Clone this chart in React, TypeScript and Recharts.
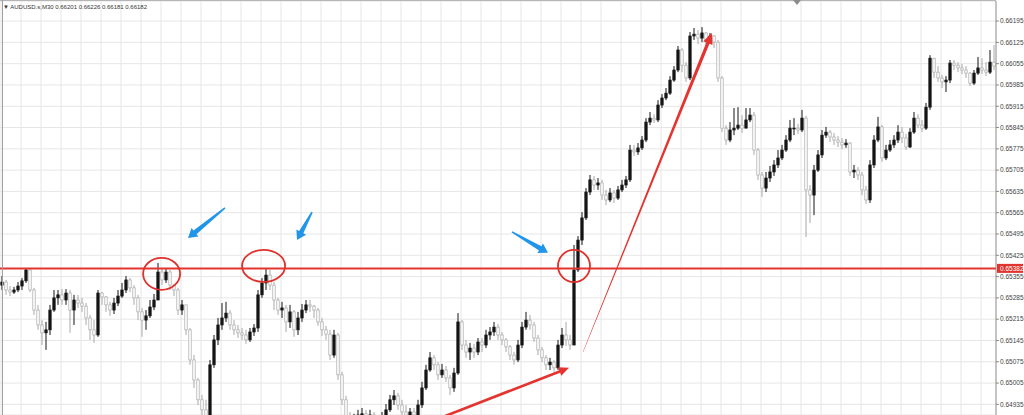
import React from "react";
import {
  ComposedChart,
  Bar,
  XAxis,
  YAxis,
  CartesianGrid,
  ReferenceLine,
  ReferenceDot,
} from "recharts";

// AUDUSD M30, prices stored in points (1 point = 0.00001)
const symbolName = "AUDUSD.s,M30";
const quote = ["0.66201", "0.66226", "0.66181", "0.66182"];
const levelPrice = 65382;
const firstOpen = 65327;

const closes = [
  65337, 65311, 65304, 65311, 65324, 65341, 65377, 65311, 65245, 65196,
  65170, 65180, 65245, 65285, 65295, 65278, 65301, 65245, 65278, 65268,
  65258, 65219, 65180, 65163, 65301, 65288, 65262, 65245, 65268, 65291,
  65311, 65344, 65318, 65285, 65239, 65212, 65226, 65255, 65278, 65370,
  65344, 65370, 65327, 65311, 65245, 65262, 65180, 65081, 65015, 64950,
  64917, 64884, 65065, 65147, 65196, 65219, 65235, 65196, 65180, 65170,
  65163, 65147, 65173, 65186, 65295, 65334, 65360, 65327, 65278, 65245,
  65252, 65206, 65239, 65180, 65219, 65245, 65262, 65258, 65245, 65206,
  65180, 65166, 65097, 65163, 65032, 64950, 64890, 64867, 64884, 64900,
  64904, 64890, 64900, 64884, 64871, 64890, 64917, 64950, 64963, 64933,
  64910, 64900, 64910, 64900, 64933, 64989, 65048, 65088, 65065, 65032,
  65048, 65022, 64989, 65038, 65206, 65130, 65107, 65120, 65107, 65140,
  65130, 65163, 65173, 65189, 65163, 65147, 65124, 65097, 65081, 65130,
  65189, 65212, 65196, 65153, 65114, 65088, 65065, 65074, 65055, 65130,
  65163, 65147, 65130, 65377, 65475, 65548, 65633, 65673, 65656, 65663,
  65623, 65607, 65630, 65613, 65640, 65656, 65673, 65771, 65765, 65778,
  65804, 65863, 65876, 65870, 65919, 65942, 65958, 66001, 66034, 66100,
  66050, 66008, 66146, 66152, 66139, 66156, 66133, 66146, 66126, 66008,
  65843, 65804, 65837, 65843, 65853, 65843, 65870, 65886, 65771, 65689,
  65646, 65679, 65699, 65722, 65745, 65771, 65804, 65843, 65843, 65837,
  65876, 65640, 65623, 65705, 65755, 65820, 65830, 65814, 65804, 65797,
  65788, 65794, 65699, 65705, 65689, 65640, 65607, 65722, 65804, 65847,
  65745, 65771, 65788, 65804, 65830, 65811, 65781, 65830, 65876, 65853,
  65843, 65912, 66073, 66027, 66008, 65995, 66001, 66057, 66050, 66041,
  66034, 66024, 65991, 66024, 66041, 66034, 66027, 66060, 66047,
];

const highs = [
  65357, 65344, 65324, 65321, 65337, 65350, 65383, 65383, 65318, 65262,
  65212, 65206, 65262, 65311, 65311, 65314, 65314, 65311, 65295, 65295,
  65285, 65268, 65229, 65212, 65311, 65304, 65291, 65272, 65285, 65311,
  65334, 65357, 65350, 65327, 65295, 65252, 65245, 65278, 65298, 65400,
  65380, 65383, 65377, 65331, 65318, 65278, 65262, 65186, 65097, 65022,
  64966, 64950, 65081, 65163, 65219, 65268, 65272, 65245, 65212, 65196,
  65186, 65180, 65186, 65199, 65311, 65350, 65383, 65377, 65337, 65285,
  65272, 65262, 65262, 65245, 65239, 65265, 65278, 65278, 65262, 65252,
  65219, 65193, 65180, 65180, 65170, 65042, 64963, 64910, 64904, 64917,
  64923, 64917, 64917, 64910, 64900, 64910, 64936, 64966, 64982, 64973,
  64950, 64933, 64923, 64923, 64950, 65009, 65065, 65107, 65097, 65074,
  65068, 65061, 65032, 65055, 65235, 65212, 65147, 65137, 65134, 65153,
  65153, 65180, 65189, 65206, 65199, 65173, 65153, 65130, 65107, 65147,
  65206, 65239, 65229, 65206, 65163, 65124, 65097, 65088, 65081, 65147,
  65186, 65206, 65163, 65459, 65488, 65567, 65646, 65689, 65686, 65679,
  65673, 65640, 65646, 65640, 65653, 65673, 65686, 65788, 65788, 65794,
  65817, 65876, 65896, 65889, 65935, 65955, 65975, 66014, 66047, 66113,
  66106, 66060, 66159, 66172, 66165, 66175, 66159, 66156, 66149, 66133,
  66014, 65853, 65863, 65909, 65912, 65886, 65909, 65909, 65896, 65778,
  65699, 65699, 65719, 65738, 65771, 65788, 65820, 65870, 65876, 65857,
  65903, 65883, 65656, 65722, 65771, 65837, 65847, 65837, 65827, 65817,
  65811, 65807, 65797, 65722, 65715, 65699, 65653, 65738, 65820, 65880,
  65853, 65788, 65804, 65820, 65853, 65847, 65824, 65843, 65896, 65889,
  65870, 65926, 66083, 66073, 66047, 66018, 66014, 66067, 66067, 66060,
  66054, 66047, 66027, 66034, 66077, 66073, 66060, 66100, 66116,
];

const lows = [
  65311, 65295, 65291, 65298, 65304, 65311, 65334, 65304, 65229, 65180,
  65130, 65114, 65163, 65239, 65262, 65262, 65262, 65170, 65196, 65252,
  65239, 65196, 65147, 65137, 65157, 65262, 65239, 65226, 65232, 65258,
  65285, 65301, 65304, 65262, 65212, 65157, 65180, 65219, 65245, 65278,
  65327, 65334, 65311, 65291, 65229, 65229, 65163, 65065, 64989, 64933,
  64897, 64851, 64867, 65055, 65130, 65180, 65206, 65180, 65163, 65153,
  65147, 65134, 65140, 65160, 65173, 65285, 65311, 65311, 65245, 65229,
  65219, 65173, 65186, 65157, 65163, 65206, 65235, 65239, 65219, 65193,
  65160, 65147, 65081, 65088, 65015, 64933, 64867, 64844, 64851, 64867,
  64877, 64867, 64871, 64858, 64851, 64858, 64884, 64910, 64933, 64917,
  64890, 64884, 64890, 64884, 64890, 64923, 64982, 65042, 65048, 65015,
  65022, 65009, 64966, 64976, 65032, 65114, 65088, 65081, 65088, 65097,
  65107, 65120, 65147, 65160, 65147, 65130, 65107, 65081, 65065, 65074,
  65120, 65180, 65180, 65140, 65097, 65074, 65048, 65048, 65042, 65048,
  65120, 65127, 65114, 65130, 65370, 65459, 65541, 65623, 65640, 65640,
  65607, 65590, 65600, 65597, 65607, 65633, 65646, 65666, 65751, 65755,
  65771, 65797, 65853, 65860, 65863, 65909, 65935, 65952, 65995, 66027,
  66027, 65995, 66001, 66133, 66119, 66126, 66116, 66123, 66106, 65995,
  65830, 65788, 65797, 65820, 65837, 65827, 65843, 65863, 65755, 65673,
  65617, 65633, 65666, 65686, 65712, 65738, 65765, 65797, 65820, 65824,
  65830, 65485, 65531, 65557, 65699, 65745, 65811, 65797, 65788, 65781,
  65774, 65778, 65686, 65679, 65673, 65623, 65594, 65597, 65712, 65797,
  65732, 65738, 65765, 65778, 65794, 65794, 65771, 65778, 65824, 65843,
  65830, 65837, 65903, 66008, 65995, 65975, 65962, 65991, 66034, 66027,
  66021, 66008, 65981, 65985, 66018, 66021, 66014, 66021, 66034,
];

const priceTicks = [
  66195, 66125, 66055, 65985, 65915, 65845, 65775, 65705, 65635, 65565,
  65495, 65425, 65355, 65285, 65215, 65145, 65075, 65005, 64935,
];

// markup drawn over the chart: bar index + price
const rings = [
  { bar: 39.9, price: 65364 },
  { bar: 65.4, price: 65390 },
  { bar: 143, price: 65390 },
];
const ringSizes = [
  [18.5, 16],
  [21.5, 16],
  [16, 16],
];
const blueArrows = [
  { from: [55.75, 65581], to: [46.5, 65482] },
  { from: [77.5, 65567], to: [73.75, 65475] },
  { from: [127.5, 65502], to: [136.5, 65433] },
];
const redArrows = [
  { from: [109.5, 64890], to: [141.75, 65055] },
  { from: [145.25, 65107], to: [177.5, 66156] },
];

const W = 1024;
const H = 415;
const AXIS_W = 28;
const FONT = "'Liberation Sans', Arial, sans-serif";

const fmt = (v: number) => (v / 100000).toFixed(5);

const rows = closes.map((close, i) => ({
  i,
  // each bar opens where the previous one closed
  open: i === 0 ? firstOpen : closes[i - 1],
  high: highs[i],
  low: lows[i],
  close,
  range: [lows[i], highs[i]],
}));

function Candle(props: any) {
  const { x, y, width, height, payload } = props;
  if (!payload || x == null) return null;
  const { open, close, high, low } = payload;
  const top = Math.min(y, y + height);
  const h = Math.abs(height);
  const span = high - low || 1;
  const py = (v: number) => top + ((high - v) / span) * h;
  const cx = x + width / 2;
  const up = close >= open;
  const bodyTop = py(Math.max(open, close));
  const bodyH = Math.max(py(Math.min(open, close)) - bodyTop, 0.8);
  const bw = 2.4;
  const ink = up ? "#151515" : "#a8a8a8";
  return (
    <g>
      <line x1={cx} x2={cx} y1={top} y2={top + h} stroke={ink} strokeWidth={1} />
      <rect
        x={cx - bw / 2}
        y={bodyTop}
        width={bw}
        height={bodyH}
        fill={up ? "#151515" : "#ffffff"}
        stroke={ink}
        strokeWidth={0.7}
      />
    </g>
  );
}

function arrowShape(color: string, tailW: number, shaftW: number, headLen: number, headW: number) {
  return (p: any) => {
    const { x1, y1, x2, y2 } = p;
    if ([x1, y1, x2, y2].some((v) => v == null || Number.isNaN(v))) return null;
    const dx = x2 - x1;
    const dy = y2 - y1;
    const len = Math.hypot(dx, dy) || 1;
    const ux = dx / len;
    const uy = dy / len;
    const nx = -uy;
    const ny = ux;
    const bx = x2 - ux * headLen;
    const by = y2 - uy * headLen;
    const pts = [
      [x1 + (nx * tailW) / 2, y1 + (ny * tailW) / 2],
      [bx + (nx * shaftW) / 2, by + (ny * shaftW) / 2],
      [bx + (nx * headW) / 2, by + (ny * headW) / 2],
      [x2, y2],
      [bx - (nx * headW) / 2, by - (ny * headW) / 2],
      [bx - (nx * shaftW) / 2, by - (ny * shaftW) / 2],
      [x1 - (nx * tailW) / 2, y1 - (ny * tailW) / 2],
    ];
    return <polygon points={pts.map((q) => q.join(",")).join(" ")} fill={color} />;
  };
}

const blueArrow = arrowShape("#2196e8", 1.6, 4.8, 9, 11);
const redArrowFlat = arrowShape("#e3342f", 2.6, 2.8, 10, 9);
const redArrowTaper = arrowShape("#e3342f", 0.4, 3.4, 11, 10);

function PriceTag(props: any) {
  const vb = props.viewBox;
  if (!vb) return null;
  const x = vb.x + vb.width;
  const y = vb.y;
  return (
    <g>
      <rect x={x + 1} y={y - 4.5} width={AXIS_W - 2} height={9} fill="#e0342f" />
      <text x={x + 4} y={y} dy="0.35em" fontSize={6.5} fill="#ffffff" fontFamily={FONT}>
        {fmt(levelPrice)}
      </text>
    </g>
  );
}

const gridX = ({ offset }: any) => {
  const left = offset ? offset.left : 0;
  const width = offset ? offset.width : W - AXIS_W;
  const step = width / rows.length;
  const xs: number[] = [];
  for (let b = 0; b < rows.length; b += 5) xs.push(left + (b + 0.25) * step);
  return xs;
};

export default function App() {
  return (
    <div style={{ position: "relative", width: W, height: H, background: "#fff", overflow: "hidden" }}>
      <style>{"body{margin:0}"}</style>
      <ComposedChart
        width={W}
        height={H}
        data={rows}
        margin={{ top: 1, right: 0, bottom: 0, left: 0 }}
        barCategoryGap={0}
      >
        <CartesianGrid stroke="#e6e6e6" verticalCoordinatesGenerator={gridX} />
        <XAxis dataKey="i" hide />
        <XAxis
          xAxisId="n"
          type="number"
          dataKey="i"
          domain={[-0.5, rows.length - 0.5]}
          allowDataOverflow
          hide
        />
        <YAxis
          orientation="right"
          width={AXIS_W}
          domain={[64900, 66261]}
          allowDataOverflow
          ticks={priceTicks}
          interval={0}
          tickFormatter={fmt}
          tickSize={3}
          tickMargin={1}
          axisLine={{ stroke: "#8a8a8a" }}
          tickLine={{ stroke: "#8a8a8a" }}
          tick={{ fontSize: 6.5, fill: "#444", fontFamily: FONT, textAnchor: "start" }}
        />
        <Bar dataKey="range" shape={Candle} isAnimationActive={false} />
        <ReferenceLine y={levelPrice} stroke="#e3342f" strokeWidth={2} label={PriceTag} />
        {redArrows.map((a, k) => (
          <ReferenceLine
            key={`r${k}`}
            xAxisId="n"
            ifOverflow="hidden"
            segment={[
              { x: a.from[0], y: a.from[1] },
              { x: a.to[0], y: a.to[1] },
            ]}
            shape={k === 0 ? redArrowFlat : redArrowTaper}
          />
        ))}
        {blueArrows.map((a, k) => (
          <ReferenceLine
            key={`b${k}`}
            xAxisId="n"
            ifOverflow="visible"
            segment={[
              { x: a.from[0], y: a.from[1] },
              { x: a.to[0], y: a.to[1] },
            ]}
            shape={blueArrow}
          />
        ))}
        {rings.map((r, k) => (
          <ReferenceDot
            key={`c${k}`}
            xAxisId="n"
            x={r.bar}
            y={r.price}
            r={ringSizes[k][0]}
            ifOverflow="visible"
            shape={(p: any) => (
              <ellipse
                cx={p.cx}
                cy={p.cy}
                rx={ringSizes[k][0]}
                ry={ringSizes[k][1]}
                fill="none"
                stroke="#e0302b"
                strokeWidth={1.8}
              />
            )}
          />
        ))}
      </ComposedChart>

      <svg
        width={W}
        height={H}
        style={{ position: "absolute", left: 0, top: 0, pointerEvents: "none" }}
      >
        <line x1={0} x2={W - AXIS_W} y1={0.5} y2={0.5} stroke="#b5b5b5" />
        <line x1={2.5} x2={2.5} y1={0} y2={H} stroke="#a0a0a0" />
        <polygon points="793,0 801,0 797,5" fill="#8c8c8c" />
        <text x={3} y={8.5} fontSize={6} fill="#333" fontFamily={FONT}>
          {"\u25BC " + symbolName + " " + quote.join(" ")}
        </text>
      </svg>
    </div>
  );
}
